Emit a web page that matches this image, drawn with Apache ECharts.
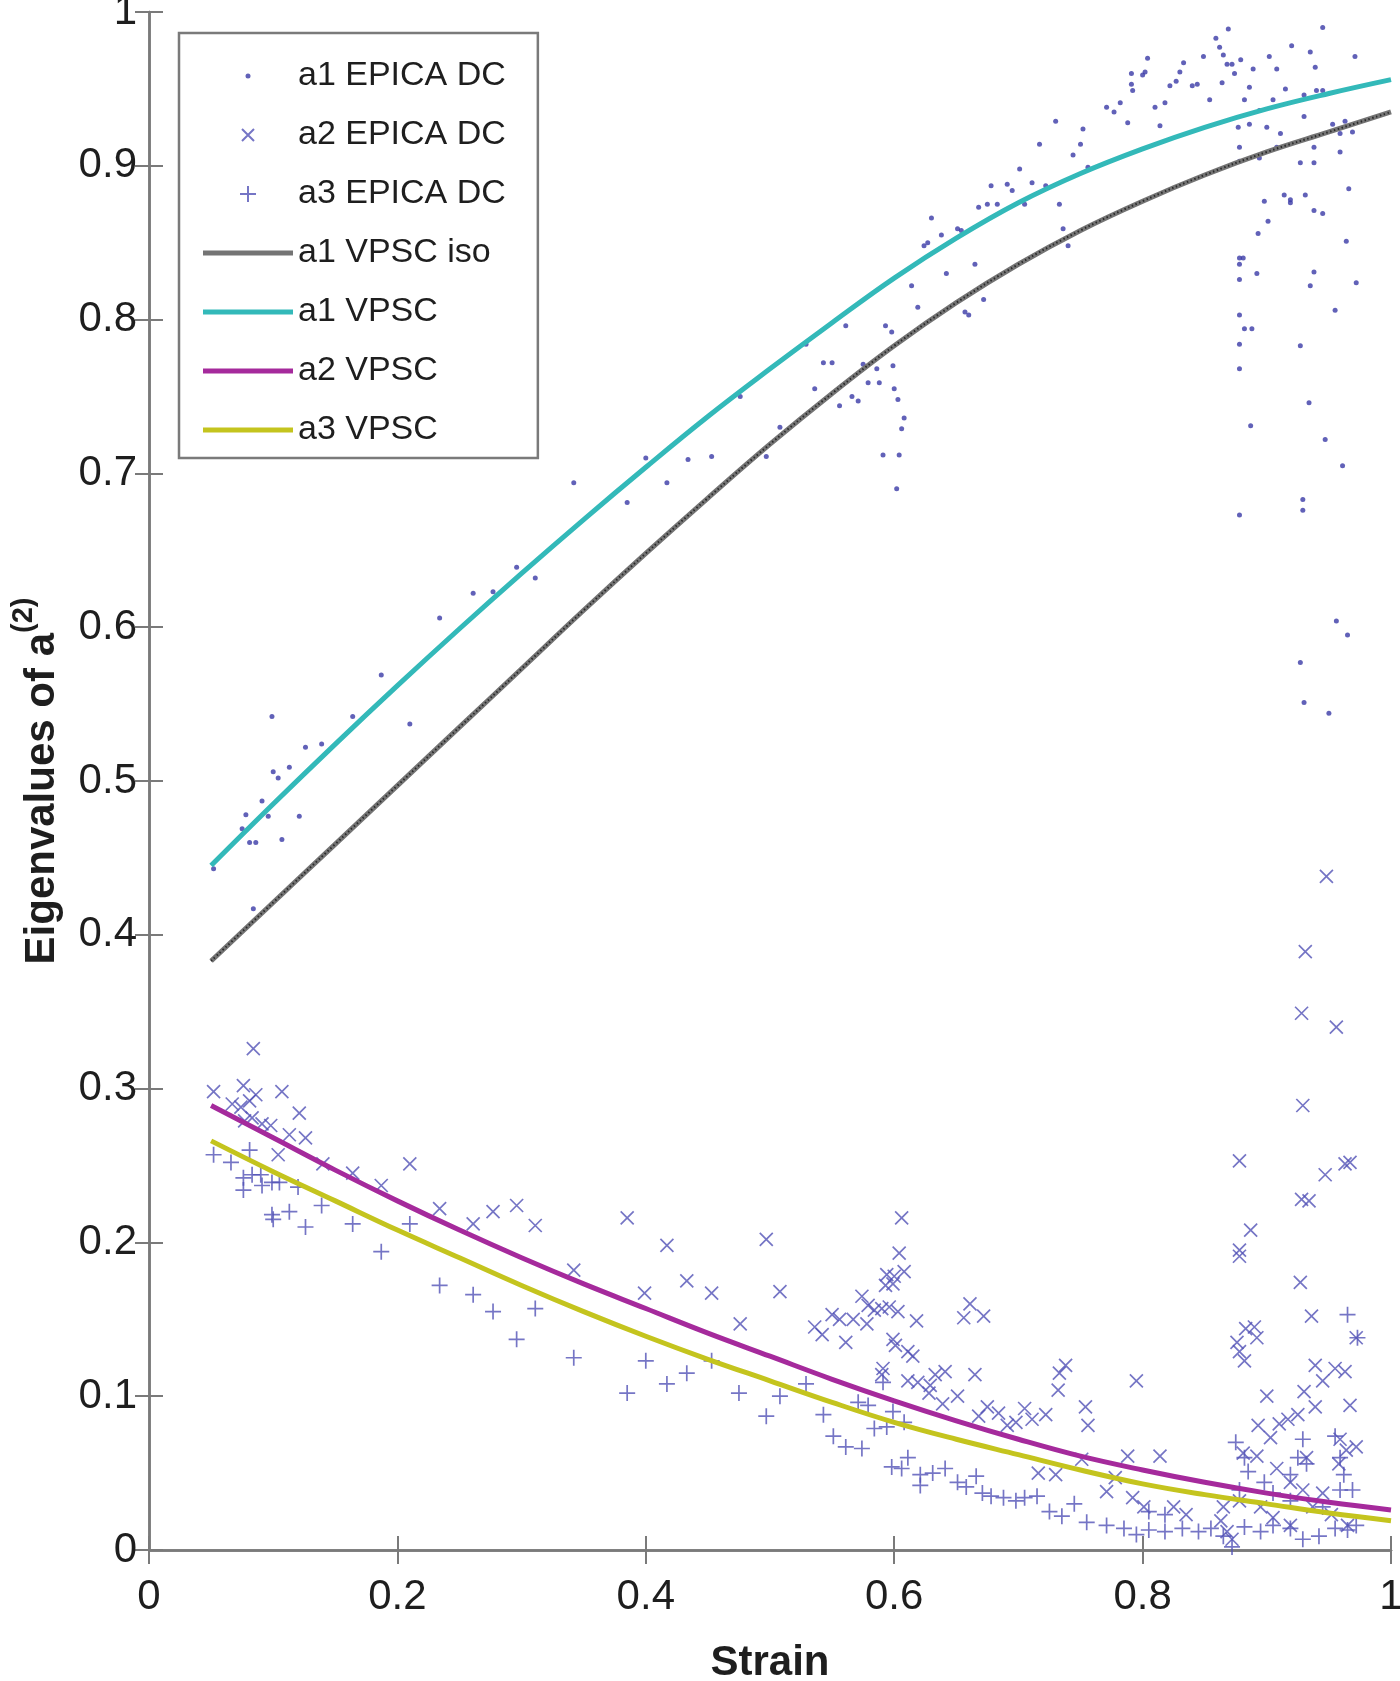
<!DOCTYPE html>
<html>
<head>
<meta charset="utf-8">
<title>Eigenvalues of a(2) vs strain</title>
<script src="https://cdn.jsdelivr.net/npm/echarts@6/dist/echarts.min.js"></script>
<style>
  html, body { margin: 0; padding: 0; background: #fff; }
  #chart { width: 1400px; height: 1681px; }
</style>
</head>
<body>
<div id="chart"></div>
<script>
// tick labels
const xTickLabels = ["0", "0.2", "0.4", "0.6", "0.8", "1"];
const yTickLabels = ["0", "0.1", "0.2", "0.3", "0.4", "0.5", "0.6", "0.7", "0.8", "0.9", "1"];

// model curves, sampled at these strains
const curveStrain = [0.05, 0.1, 0.15, 0.2, 0.25, 0.3, 0.35, 0.4, 0.45, 0.5, 0.55, 0.6, 0.65, 0.7, 0.75, 0.8, 0.85, 0.9, 0.95, 1.0];
const a1VpscIso = [0.383, 0.421, 0.459, 0.497, 0.535, 0.573, 0.611, 0.648, 0.684, 0.719, 0.752, 0.783, 0.811, 0.836, 0.858, 0.877, 0.894, 0.909, 0.922, 0.935];
const a1Vpsc = [0.445, 0.485, 0.524, 0.562, 0.599, 0.635, 0.670, 0.704, 0.737, 0.768, 0.798, 0.827, 0.853, 0.876, 0.895, 0.911, 0.925, 0.937, 0.947, 0.956];
const a2Vpsc = [0.289, 0.268, 0.247, 0.227, 0.208, 0.190, 0.173, 0.157, 0.141, 0.126, 0.111, 0.097, 0.084, 0.072, 0.061, 0.052, 0.044, 0.037, 0.031, 0.026];
const a3Vpsc = [0.266, 0.246, 0.227, 0.208, 0.190, 0.172, 0.155, 0.139, 0.124, 0.110, 0.096, 0.083, 0.072, 0.062, 0.052, 0.043, 0.036, 0.030, 0.024, 0.019];

// EPICA DC measurements [strain, eigenvalue]
const a1Epica = [
  [0.052,0.443],[0.084,0.417],[0.078,0.478],[0.075,0.469],[0.081,0.460],[0.086,0.460],[0.091,0.487],[0.096,0.477],
  [0.099,0.542],[0.100,0.506],[0.104,0.502],[0.107,0.462],[0.113,0.509],[0.121,0.477],[0.126,0.522],[0.139,0.524],
  [0.164,0.542],[0.187,0.569],[0.210,0.537],[0.234,0.606],[0.261,0.622],[0.277,0.623],[0.296,0.639],[0.311,0.632],
  [0.342,0.694],[0.385,0.681],[0.400,0.710],[0.417,0.694],[0.434,0.709],[0.453,0.711],[0.476,0.750],
  [0.497,0.711],[0.508,0.730],[0.529,0.784],[0.536,0.755],[0.543,0.772],[0.550,0.772],[0.556,0.744],[0.561,0.796],
  [0.566,0.750],[0.571,0.747],[0.575,0.771],[0.579,0.759],[0.588,0.759],[0.586,0.768],[0.591,0.712],[0.593,0.796],
  [0.598,0.792],[0.599,0.770],[0.600,0.755],[0.603,0.748],[0.604,0.712],[0.602,0.690],[0.606,0.729],[0.608,0.736],
  [0.614,0.822],[0.619,0.808],[0.624,0.848],[0.627,0.850],[0.630,0.866],[0.638,0.855],[0.642,0.830],[0.651,0.859],
  [0.654,0.858],[0.657,0.805],[0.660,0.803],[0.665,0.836],[0.668,0.873],[0.675,0.875],[0.683,0.875],[0.672,0.813],
  [0.678,0.887],[0.691,0.888],[0.695,0.884],[0.701,0.898],[0.705,0.875],[0.711,0.889],[0.717,0.914],[0.722,0.887],
  [0.730,0.929],[0.733,0.875],[0.736,0.859],[0.740,0.848],[0.744,0.907],[0.750,0.914],[0.752,0.924],[0.756,0.899],
  [0.771,0.938],[0.777,0.935],[0.782,0.941],[0.788,0.928],[0.791,0.960],[0.791,0.953],[0.792,0.949],[0.800,0.959],
  [0.802,0.961],[0.804,0.970],[0.810,0.938],[0.818,0.941],[0.814,0.926],[0.822,0.952],[0.827,0.955],[0.830,0.961],
  [0.833,0.967],[0.840,0.952],[0.844,0.953],[0.849,0.971],[0.854,0.943],[0.859,0.983],[0.869,0.989],[0.862,0.977],
  [0.865,0.972],[0.868,0.966],[0.872,0.966],[0.864,0.954],[0.874,0.960],[0.877,0.925],[0.886,0.927],[0.878,0.912],
  [0.878,0.903],[0.879,0.969],[0.882,0.943],[0.886,0.951],[0.889,0.963],[0.894,0.905],[0.894,0.936],[0.898,0.877],
  [0.900,0.925],[0.901,0.864],[0.893,0.856],[0.902,0.971],[0.905,0.943],[0.908,0.963],[0.908,0.912],[0.911,0.921],
  [0.914,0.881],[0.919,0.878],[0.919,0.876],[0.915,0.950],[0.920,0.978],[0.927,0.902],[0.938,0.902],[0.930,0.946],
  [0.930,0.932],[0.931,0.881],[0.935,0.974],[0.938,0.912],[0.938,0.871],[0.945,0.869],[0.939,0.964],[0.940,0.949],
  [0.945,0.949],[0.945,0.990],[0.953,0.927],[0.963,0.929],[0.959,0.921],[0.969,0.922],[0.959,0.909],[0.966,0.885],
  [0.971,0.971],[0.964,0.851],[0.972,0.824],[0.938,0.831],[0.935,0.822],[0.955,0.806],[0.927,0.783],[0.878,0.840],
  [0.881,0.840],[0.878,0.836],[0.878,0.826],[0.892,0.830],[0.878,0.803],[0.882,0.794],[0.888,0.794],[0.878,0.784],
  [0.878,0.768],[0.887,0.731],[0.934,0.746],[0.947,0.722],[0.961,0.705],[0.929,0.683],[0.929,0.676],[0.878,0.673],
  [0.927,0.577],[0.930,0.551],[0.950,0.544],[0.956,0.604],[0.965,0.595]
];

const a2Epica = [
  [0.052,0.298],[0.084,0.326],[0.076,0.302],[0.086,0.296],[0.107,0.298],[0.067,0.290],[0.074,0.288],[0.081,0.292],
  [0.121,0.284],[0.091,0.277],[0.098,0.276],[0.077,0.279],[0.083,0.281],[0.113,0.270],[0.126,0.268],[0.104,0.257],
  [0.140,0.251],[0.164,0.245],[0.187,0.237],[0.210,0.251],[0.234,0.222],[0.261,0.212],[0.277,0.220],[0.296,0.224],
  [0.311,0.211],[0.342,0.182],[0.385,0.216],[0.399,0.167],[0.417,0.198],[0.433,0.175],[0.453,0.167],[0.476,0.147],
  [0.497,0.202],[0.508,0.168],[0.606,0.216],[0.604,0.193],[0.594,0.179],[0.600,0.178],[0.608,0.181],[0.593,0.172],
  [0.599,0.173],[0.574,0.165],[0.579,0.159],[0.584,0.156],[0.590,0.157],[0.596,0.158],[0.603,0.155],[0.550,0.153],
  [0.556,0.150],[0.536,0.145],[0.542,0.140],[0.567,0.150],[0.578,0.147],[0.561,0.135],[0.599,0.137],[0.601,0.133],
  [0.615,0.126],[0.618,0.149],[0.611,0.129],[0.661,0.160],[0.656,0.151],[0.672,0.152],[0.591,0.118],[0.590,0.114],
  [0.611,0.110],[0.619,0.109],[0.629,0.107],[0.633,0.114],[0.641,0.116],[0.628,0.102],[0.639,0.095],[0.651,0.100],
  [0.665,0.114],[0.668,0.087],[0.675,0.093],[0.684,0.089],[0.691,0.081],[0.698,0.083],[0.705,0.092],[0.711,0.085],
  [0.722,0.088],[0.738,0.120],[0.733,0.115],[0.732,0.104],[0.754,0.093],[0.756,0.081],[0.795,0.110],[0.788,0.061],
  [0.814,0.061],[0.716,0.050],[0.730,0.049],[0.751,0.059],[0.771,0.038],[0.778,0.047],[0.792,0.034],[0.801,0.028],
  [0.825,0.028],[0.835,0.023],[0.878,0.253],[0.878,0.195],[0.878,0.191],[0.887,0.208],[0.883,0.144],[0.890,0.145],
  [0.892,0.138],[0.876,0.135],[0.878,0.129],[0.882,0.123],[0.928,0.349],[0.956,0.340],[0.929,0.289],[0.928,0.228],
  [0.934,0.227],[0.947,0.244],[0.963,0.251],[0.967,0.252],[0.927,0.174],[0.936,0.152],[0.972,0.138],[0.967,0.094],
  [0.939,0.120],[0.955,0.118],[0.963,0.116],[0.945,0.110],[0.930,0.103],[0.939,0.093],[0.900,0.100],[0.917,0.085],
  [0.925,0.088],[0.893,0.081],[0.903,0.073],[0.910,0.082],[0.881,0.063],[0.892,0.061],[0.932,0.060],[0.958,0.056],
  [0.972,0.067],[0.959,0.072],[0.964,0.065],[0.863,0.019],[0.868,0.012],[0.872,0.007],[0.865,0.028],[0.908,0.053],
  [0.919,0.044],[0.929,0.039],[0.945,0.037],[0.878,0.032],[0.895,0.028],[0.905,0.021],[0.919,0.016],[0.937,0.028],
  [0.952,0.023],[0.965,0.016],[0.931,0.389],[0.948,0.438]
];

const a3Epica = [
  [0.052,0.257],[0.066,0.252],[0.081,0.260],[0.076,0.242],[0.083,0.244],[0.090,0.244],[0.076,0.234],[0.091,0.237],
  [0.099,0.239],[0.105,0.239],[0.120,0.236],[0.099,0.218],[0.113,0.220],[0.100,0.215],[0.126,0.210],[0.139,0.224],
  [0.164,0.212],[0.187,0.194],[0.210,0.212],[0.234,0.172],[0.261,0.166],[0.277,0.155],[0.296,0.137],[0.311,0.157],
  [0.342,0.125],[0.385,0.102],[0.400,0.123],[0.417,0.108],[0.433,0.115],[0.453,0.123],[0.475,0.102],
  [0.497,0.087],[0.508,0.100],[0.529,0.108],[0.543,0.088],[0.551,0.074],[0.561,0.067],[0.574,0.066],[0.571,0.096],
  [0.579,0.094],[0.584,0.079],[0.594,0.080],[0.591,0.109],[0.599,0.090],[0.608,0.083],[0.598,0.054],[0.611,0.060],
  [0.606,0.053],[0.621,0.049],[0.621,0.042],[0.631,0.050],[0.641,0.053],[0.651,0.044],[0.658,0.041],[0.666,0.048],
  [0.671,0.037],[0.678,0.035],[0.688,0.034],[0.698,0.032],[0.705,0.034],[0.715,0.035],[0.725,0.025],[0.735,0.022],
  [0.745,0.030],[0.755,0.018],[0.771,0.016],[0.785,0.014],[0.795,0.010],[0.805,0.013],[0.818,0.012],[0.832,0.014],
  [0.845,0.012],[0.855,0.014],[0.865,0.009],[0.872,0.002],[0.882,0.015],[0.895,0.012],[0.905,0.016],[0.919,0.014],
  [0.929,0.007],[0.942,0.009],[0.955,0.014],[0.965,0.013],[0.972,0.016],[0.875,0.070],[0.882,0.060],[0.885,0.051],
  [0.878,0.039],[0.929,0.072],[0.925,0.060],[0.932,0.056],[0.919,0.049],[0.955,0.074],[0.959,0.060],[0.962,0.049],
  [0.969,0.039],[0.965,0.153],[0.959,0.039],[0.945,0.028],[0.919,0.032],[0.805,0.025],[0.818,0.023],[0.905,0.037],
  [0.898,0.044],[0.973,0.138]
];

const markerColor = "#5252b6";
const font = "'Liberation Sans', Arial, Helvetica, sans-serif";
// legend sample for the model curves: a 5px band inside a 90x16 box
const lineIcon = "path://M0,0M90,16M0,5.5L90,5.5L90,10.5L0,10.5z";

function pairs(xs, ys) {
  return xs.map((x, i) => [x, ys[i]]);
}

const chart = echarts.init(document.getElementById("chart"));

const axisLine = { show: true, lineStyle: { color: "#7a7a7a", width: 2.5 } };
const axisTick = { show: true, inside: true, length: 14, lineStyle: { color: "#7a7a7a", width: 2 } };

function curve(name, values, color) {
  return {
    name: name,
    type: "line",
    smooth: 0.4,
    showSymbol: false,
    symbol: "none",
    lineStyle: { color: color, width: 5 },
    itemStyle: { color: color },
    data: pairs(curveStrain, values),
    z: 3
  };
}

const isoDots = curve("a1 VPSC iso", a1VpscIso, "#747474");
isoDots.lineStyle = { color: "#2a2a2a", width: 2, type: [1.5, 2.5] };

const option = {
  backgroundColor: "#ffffff",
  animation: false,
  // fixed plot box; labels may run to the page edge like the original
  grid: { left: 149, right: 9, top: 12, bottom: 131, containLabel: false, outerBoundsMode: "none" },
  legend: {
    orient: "vertical",
    left: 179,
    top: 33,
    padding: [25, 32, 10, 24],
    itemGap: 23,
    itemWidth: 90,
    itemHeight: 16,
    borderColor: "#7a7a7a",
    borderWidth: 2.5,
    backgroundColor: "#ffffff",
    selectedMode: false,
    textStyle: { fontFamily: font, fontSize: 34, color: "#1e1e1e", lineHeight: 36 },
    data: [
      { name: "a1 EPICA DC", icon: "path://M0,0M16,16M5.5,8a2.5,2.5 0 1,0 5,0a2.5,2.5 0 1,0 -5,0z" },
      { name: "a2 EPICA DC", icon: "path://M0,0M16,16M2,2L14,14M14,2L2,14" },
      { name: "a3 EPICA DC", icon: "path://M8,0L8,16M0,8L16,8" },
      { name: "a1 VPSC iso", icon: lineIcon },
      { name: "a1 VPSC", icon: lineIcon },
      { name: "a2 VPSC", icon: lineIcon },
      { name: "a3 VPSC", icon: lineIcon }
    ]
  },
  xAxis: [
    {
      type: "value",
      min: 0,
      max: 1,
      interval: 0.2,
      position: "bottom",
      name: "Strain",
      nameLocation: "middle",
      nameGap: 92,
      nameTextStyle: { fontFamily: font, fontSize: 42, fontWeight: "bold", color: "#1e1e1e" },
      axisLine: axisLine,
      axisTick: axisTick,
      splitLine: { show: false },
      axisLabel: {
        margin: 26,
        fontFamily: font,
        fontSize: 42,
        color: "#1e1e1e",
        formatter: (v) => xTickLabels[Math.round(v * 5)]
      }
    },
    {
      type: "value",
      min: 0,
      max: 1,
      interval: 0.2,
      position: "top",
      axisLine: axisLine,
      axisTick: axisTick,
      splitLine: { show: false },
      axisLabel: { show: false }
    }
  ],
  yAxis: [
    {
      type: "value",
      min: 0,
      max: 1,
      interval: 0.1,
      position: "left",
      name: "{b|Eigenvalues of a}{s|(2)}",
      nameLocation: "middle",
      nameRotate: 90,
      nameGap: 86,
      nameTextStyle: {
        rich: {
          b: { fontFamily: font, fontSize: 42, fontWeight: "bold", color: "#1e1e1e", lineHeight: 54, verticalAlign: "bottom" },
          s: { fontFamily: font, fontSize: 29, fontWeight: "bold", color: "#1e1e1e", lineHeight: 30, verticalAlign: "top" }
        }
      },
      axisLine: axisLine,
      axisTick: axisTick,
      splitLine: { show: false },
      axisLabel: {
        margin: 12,
        fontFamily: font,
        fontSize: 42,
        color: "#1e1e1e",
        formatter: (v) => yTickLabels[Math.round(v * 10)]
      }
    },
    {
      type: "value",
      min: 0,
      max: 1,
      interval: 0.1,
      position: "right",
      axisLine: axisLine,
      axisTick: axisTick,
      splitLine: { show: false },
      axisLabel: { show: false }
    }
  ],
  series: [
    {
      name: "a1 EPICA DC",
      type: "scatter",
      symbol: "circle",
      symbolSize: 5,
      itemStyle: { color: "#3a3aa6" },
      data: a1Epica,
      z: 2
    },
    {
      name: "a2 EPICA DC",
      type: "scatter",
      symbol: "path://M0,0L10,10M10,0L0,10",
      symbolSize: 13,
      itemStyle: { color: "rgba(0,0,0,0)", borderColor: markerColor, borderWidth: 1.7 },
      data: a2Epica,
      z: 2
    },
    {
      name: "a3 EPICA DC",
      type: "scatter",
      symbol: "path://M5,0L5,10M0,5L10,5",
      symbolSize: 16,
      itemStyle: { color: "rgba(0,0,0,0)", borderColor: markerColor, borderWidth: 1.7 },
      data: a3Epica,
      z: 2
    },
    curve("a1 VPSC iso", a1VpscIso, "#747474"),
    isoDots,
    curve("a1 VPSC", a1Vpsc, "#33b9b9"),
    curve("a2 VPSC", a2Vpsc, "#a52a9c"),
    curve("a3 VPSC", a3Vpsc, "#c4c41e")
  ]
};

chart.setOption(option);
</script>
</body>
</html>
